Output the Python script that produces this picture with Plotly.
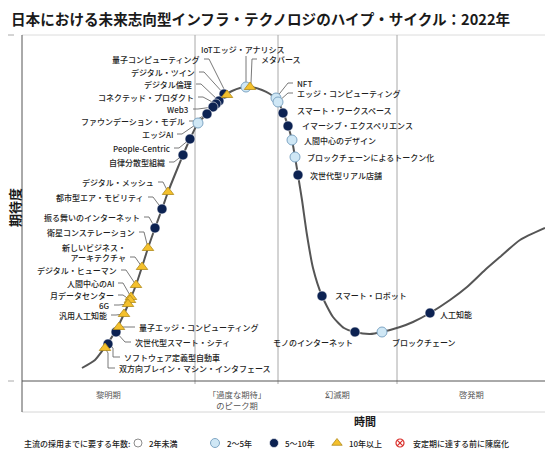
import plotly.graph_objects as go

# ---------------- data ----------------
# hype curve (time, expectation in chart units; y grows downward)
curve_t = [82, 95, 105, 115, 124, 130, 136, 142, 148, 155, 162, 168, 176, 183, 190, 198,
           207, 213, 219, 225, 232, 240, 250, 262, 270, 277, 283, 288, 292, 295, 298, 302,
           307, 313, 322, 333, 344, 355, 370, 382, 400, 413, 430, 450, 467, 485, 500, 520, 545]
curve_e = [368, 360, 347, 332, 314, 300, 285, 267, 248, 228, 209, 192, 172, 155, 139, 123,
           114, 107, 101, 95, 91, 88, 87, 90, 94, 100, 112, 126, 140, 157, 175, 200,
           235, 268, 296, 317, 328, 332, 334, 332, 327, 322, 313, 300, 287, 270, 257, 240, 228]

tech_names = [
    "量子コンピューティング", "デジタル・ツイン", "デジタル倫理", "コネクテッド・プロダクト", "Web3",
    "ファウンデーション・モデル", "エッジAI", "People-Centric", "自律分散型組織",
    "デジタル・メッシュ", "都市型エア・モビリティ", "振る舞いのインターネット", "衛星コンステレーション",
    "新しいビジネス・<br>アーキテクチャ", "デジタル・ヒューマン", "人間中心のAI", "月データセンター", "6G",
    "汎用人工知能", "量子エッジ・コンピューティング", "次世代型スマート・シティ", "ソフトウェア定義型自動車",
    "双方向ブレイン・マシン・インタフェース", "IoTエッジ・アナリシス", "メタバース", "NFT",
    "エッジ・コンピューティング", "スマート・ワークスペース", "イマーシブ・エクスペリエンス",
    "人間中心のデザイン", "ブロックチェーンによるトークン化", "次世代型リアル店舗",
    "スマート・ロボット", "モノのインターネット", "ブロックチェーン", "人工知能",
]
tech_t = [227, 224, 219, 216, 213, 207, 198, 190, 183, 168, 162, 155, 148, 142, 136, 131, 130, 128,
          124, 119, 116, 108, 105, 246, 250, 276, 278, 283, 288, 292, 295, 298, 322, 355, 382, 430]
tech_e = [95, 94, 101, 104, 107, 114, 123, 139, 155, 192, 209, 228, 248, 267, 285, 297, 300, 304,
          314, 327, 332, 344, 348, 87, 87, 98, 102, 113, 126, 140, 157, 175, 296, 332, 332, 313]
tech_years = ["10+", "5-10", "5-10", "5-10", "5-10", "5-10", "2-5", "5-10", "5-10",
              "10+", "5-10", "5-10", "10+", "10+", "10+", "10+", "10+", "10+",
              "10+", "10+", "5-10", "5-10", "10+", "2-5", "10+", "2-5",
              "2-5", "5-10", "5-10", "2-5", "2-5", "5-10", "5-10", "5-10", "2-5", "5-10"]

legend_title = "主流の採用までに要する年数:"
legend_keys = ["<2", "2-5", "5-10", "10+", "obs"]
legend_texts = ["2年未満", "2～5年", "5～10年", "10年以上", "安定期に達する前に陳腐化"]

phase_labels = ["黎明期", "「過度な期待」<br>のピーク期", "幻滅期", "啓発期"]
title_text = "日本における未来志向型インフラ・テクノロジのハイプ・サイクル：2022年"

# ---------------- layout / placement ----------------
W, H = 545, 462
# label anchor (x, y, side) ; side 'r' = text ends at x, 'l' = text starts at x
label_place = [
    (202, 59, "r"), (197, 72, "r"), (194, 84, "r"), (196, 97, "r"), (191, 109, "r"),
    (187, 121, "r"), (175, 134, "r"), (172, 148, "r"), (167, 162, "r"),
    (156, 182, "r"), (146, 197, "r"), (142, 217, "r"), (137, 232, "r"),
    (128, 252, "r"), (119, 270, "r"), (116, 283, "r"), (116, 295, "r"), (112, 305, "r"),
    (109, 315, "r"), (137, 327, "l"), (133, 342, "l"), (122, 357, "l"),
    (117, 368, "l"), (199, 49, "l"), (259, 59, "l"), (295, 83, "l"),
    (295, 93, "l"), (295, 110, "l"), (300, 125, "l"), (302, 140, "l"), (305, 157, "l"),
    (308, 175, "l"), (333, 295, "l"), (355, 342, "r"), (390, 342, "l"), (438, 314, "l"),
]
# connector polylines (label side -> marker)
connectors = {
    13: [(130, 257), (135, 257)],
    19: [(135, 327)],
    20: [(131, 342), (125, 342)],
    21: [(120, 357), (113, 357), (113, 348)],
    22: [(115, 368), (108, 368), (108, 353)],
    23: [(246, 56), (246, 83)],
    24: [(257, 59), (252, 59), (251, 83)],
    25: [(293, 83), (288, 83)],
    26: [(293, 93), (288, 93)],
    33: [(353, 337)],
}
elbow_idx = list(range(0, 19))

styles = {
    "<2": dict(symbol="circle", size=9, color="#ffffff", line=dict(color="#8c8c8c", width=1)),
    "2-5": dict(symbol="circle", size=10, color="#cfe7f5", line=dict(color="#7fa6c4", width=1)),
    "5-10": dict(symbol="circle", size=10, color="#0c2252", line=dict(color="#ffffff", width=0.6)),
    "10+": dict(symbol="triangle-up", size=10, color="#f4c02c", line=dict(color="#b08a1c", width=0.8)),
    "obs": dict(symbol="circle-x-open", size=9, color="#d9302c", line=dict(color="#d9302c", width=1.2)),
}

FONT = "Noto Sans CJK JP, Noto Sans, sans-serif"
fig = go.Figure()

# connectors
cx, cy = [], []
for i, name in enumerate(tech_names):
    lx, ly, side = label_place[i]
    pts = None
    if i in connectors:
        pts = connectors[i] + [(tech_t[i], tech_e[i])]
    elif i in elbow_idx:
        pts = [(lx + 2, ly), (lx + 7, ly), (tech_t[i], tech_e[i])]
    if pts:
        for p in pts:
            cx.append(p[0]); cy.append(p[1])
        cx.append(None); cy.append(None)
fig.add_trace(go.Scatter(x=cx, y=cy, mode="lines", line=dict(color="#6a6a6a", width=0.9),
                         hoverinfo="skip", showlegend=False))

# curve
fig.add_trace(go.Scatter(x=curve_t, y=curve_e, mode="lines",
                         line=dict(color="#555555", width=2, shape="spline", smoothing=0.6),
                         hoverinfo="skip", showlegend=False))

# markers per category
for key in ["2-5", "5-10", "10+"]:
    idx = [i for i, k in enumerate(tech_years) if k == key]
    st = styles[key]
    fig.add_trace(go.Scatter(
        x=[tech_t[i] for i in idx], y=[tech_e[i] for i in idx], mode="markers",
        marker=dict(symbol=st["symbol"], size=st["size"], color=st["color"], line=st["line"]),
        text=[tech_names[i] for i in idx], hoverinfo="text", showlegend=False))

annotations = []
for i, name in enumerate(tech_names):
    lx, ly, side = label_place[i]
    annotations.append(dict(x=lx, y=ly, text=name, showarrow=False,
                            xanchor="right" if side == "r" else "left", yanchor="middle",
                            align="right" if side == "r" else "left",
                            font=dict(family=FONT, size=8, color="#1e1e1e", weight=500)))

# title and axis titles
annotations.append(dict(x=9, y=18, text=title_text, showarrow=False, xanchor="left", yanchor="middle",
                        font=dict(family=FONT, size=14.6, color="#1a1a1a", weight="bold")))
annotations.append(dict(x=14, y=208, text="期待度", textangle=-90, showarrow=False,
                        font=dict(family=FONT, size=13, color="#1a1a1a", weight="bold")))
annotations.append(dict(x=365, y=421, text="時間", showarrow=False,
                        font=dict(family=FONT, size=11, color="#1a1a1a", weight="bold")))

# phase labels
phase_x = [108, 237, 337, 471]
for px_, t in zip(phase_x, phase_labels):
    annotations.append(dict(x=px_, y=386, text=t, showarrow=False, yanchor="top",
                            font=dict(family=FONT, size=8.3, color="#555555")))

# legend
annotations.append(dict(x=22, y=443, text=legend_title, showarrow=False, xanchor="left",
                        font=dict(family=FONT, size=8, color="#222222", weight=500)))
leg_mx = [138, 215, 274, 337, 400]
leg_tx = [147, 225, 283, 347, 411]
for k, mx, tx, t in zip(legend_keys, leg_mx, leg_tx, legend_texts):
    st = styles[k]
    fig.add_trace(go.Scatter(x=[mx], y=[443], mode="markers", hoverinfo="skip", showlegend=False,
                             marker=dict(symbol=st["symbol"], size=st["size"] - 1, color=st["color"],
                                         line=st["line"])))
    annotations.append(dict(x=tx, y=443, text=t, showarrow=False, xanchor="left",
                            font=dict(family=FONT, size=8, color="#222222", weight=500)))

shapes = []
def ln(x0, y0, x1, y1, color, width=1):
    shapes.append(dict(type="line", x0=x0, y0=y0, x1=x1, y1=y1, layer="below",
                       line=dict(color=color, width=width)))

ln(22, 35, 545, 35, "#dcdcdc")
ln(22, 412, 545, 412, "#d6d6d6")
for dx in [195, 278, 397]:
    ln(dx, 35, dx, 384, "#a8a8a8")
ln(22, 35, 22, 412, "#555555")
ln(22, 381, 545, 381, "#555555")
ln(8, 35, 14, 35, "#aaaaaa")
ln(8, 381, 14, 381, "#aaaaaa")

fig.update_layout(
    width=W, height=H, margin=dict(l=0, r=0, t=0, b=0),
    paper_bgcolor="white", plot_bgcolor="white",
    xaxis=dict(range=[0, W], visible=False, fixedrange=True),
    yaxis=dict(range=[H, 0], visible=False, fixedrange=True),
    annotations=annotations, shapes=shapes, showlegend=False,
    font=dict(family=FONT),
)
for tr in fig.data:
    tr.cliponaxis = False

fig.write_html("out.html", config={"displayModeBar": False},
               post_script="document.body.style.margin='0';document.body.style.overflow='hidden';")
